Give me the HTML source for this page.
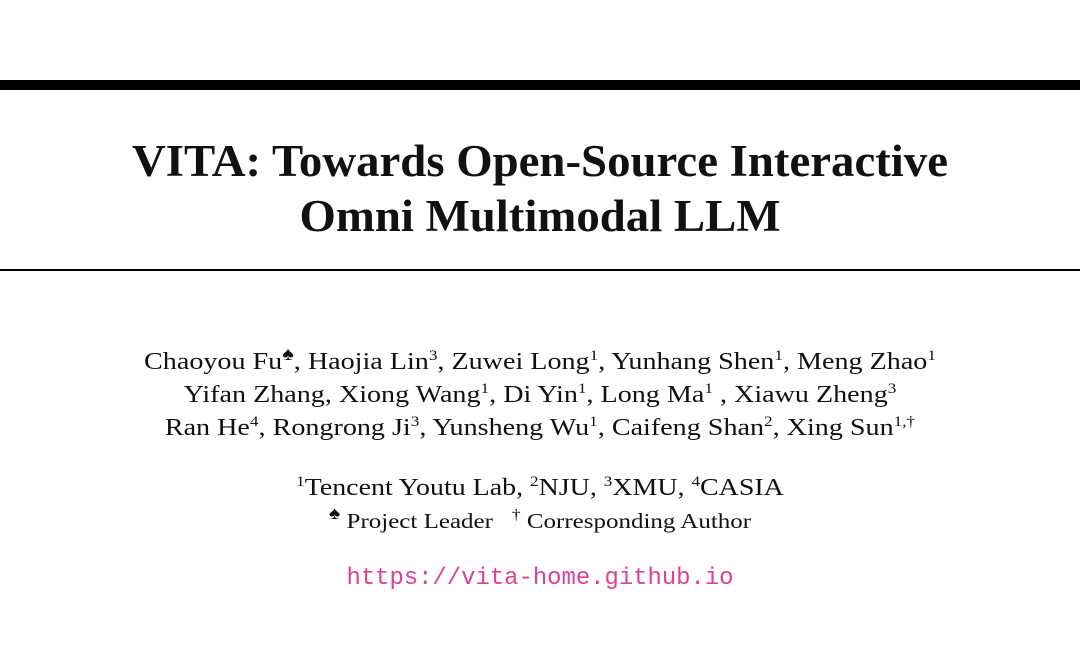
<!DOCTYPE html>
<html><head><meta charset="utf-8"><style>
body{margin:0;width:1080px;height:653px;background:#fff;position:relative;overflow:hidden;font-family:"Liberation Serif",serif;color:#111}
.r{position:absolute;left:0;width:1080px;background:#000}
.c{position:absolute;left:0;width:1080px;text-align:center;white-space:nowrap;transform-origin:540px 0}
.t{font-weight:bold;font-size:45px;line-height:45px;transform:scaleX(1.04)}
.a{font-size:24.5px;line-height:24px;transform:scaleX(1.147)}
sup{font-size:15px;vertical-align:9px;line-height:0}
</style></head><body>
<div class="r" style="top:80px;height:10px"></div>
<div class="r" style="top:269px;height:2px"></div>
<div class="c t" style="top:139px">VITA: Towards Open-Source Interactive</div>
<div class="c t" style="top:194px">Omni Multimodal LLM</div>
<div class="c a" style="top:350px">Chaoyou Fu<sup style="font-size:19px">♠</sup>, Haojia Lin<sup>3</sup>, Zuwei Long<sup>1</sup>, Yunhang Shen<sup>1</sup>, Meng Zhao<sup>1</sup></div>
<div class="c a" style="top:383px">Yifan Zhang, Xiong Wang<sup>1</sup>, Di Yin<sup>1</sup>, Long Ma<sup>1</sup> , Xiawu Zheng<sup>3</sup></div>
<div class="c a" style="top:416px">Ran He<sup>4</sup>, Rongrong Ji<sup>3</sup>, Yunsheng Wu<sup>1</sup>, Caifeng Shan<sup>2</sup>, Xing Sun<sup>1,†</sup></div>
<div class="c a" style="top:476px;transform:scaleX(1.14)"><sup>1</sup>Tencent Youtu Lab, <sup>2</sup>NJU, <sup>3</sup>XMU, <sup>4</sup>CASIA</div>
<div class="c" style="top:510px;font-size:21px;line-height:22px;transform:scaleX(1.19)"><sup style="font-size:18px">♠</sup> Project Leader &nbsp;&nbsp;<sup>†</sup> Corresponding Author</div>
<div class="c" style="top:566px;font-family:'Liberation Mono',monospace;font-size:24.5px;line-height:26px;color:#e0409a;transform:scaleX(0.975)">https://vita-home.github.io</div>
</body></html>
